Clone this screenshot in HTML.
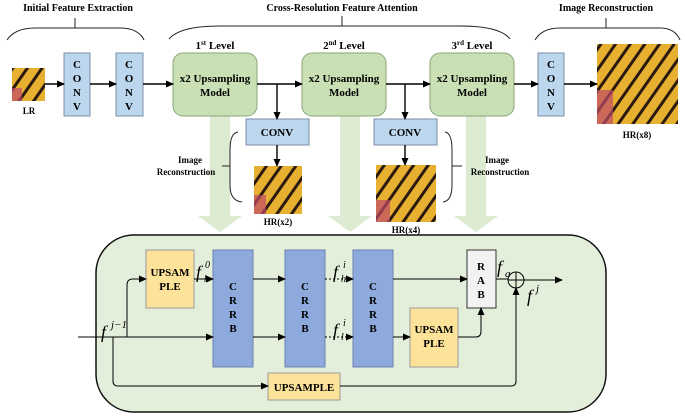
<!DOCTYPE html>
<html><head><style>body{margin:0;background:#fff}svg{display:block}</style></head><body>
<svg width="685" height="417" viewBox="0 0 685 417" xmlns="http://www.w3.org/2000/svg" font-family="Liberation Serif, serif" font-weight="bold">
<defs>
<marker id="a" markerWidth="8" markerHeight="8" refX="7" refY="4" orient="auto" markerUnits="userSpaceOnUse"><path d="M0,0.5 L8,4 L0,7.5z" fill="#000"/></marker>
<pattern id="bf" width="12" height="12" patternUnits="userSpaceOnUse" patternTransform="rotate(35)"><rect width="12" height="12" fill="#e8b030"/><rect width="3" height="12" fill="#2a1a10"/></pattern>
</defs>
<g fill="#dcebd2">
<path d="M210,116h20v100h12l-22,16l-22,-16h12z"/>
<path d="M340,116h20v100h12l-22,16l-22,-16h12z"/>
<path d="M466,116h20v100h12l-22,16l-22,-16h12z"/>
</g>
<g font-size="10" text-anchor="middle">
<text x="78" y="11">Initial Feature Extraction</text>
<text x="342" y="11">Cross-Resolution Feature Attention</text>
<text x="606" y="11">Image Reconstruction</text>
</g>
<g fill="none" stroke="#222" stroke-width="1">
<path d="M7,40 Q15,28 35,28 H120 Q138,28 144,40 M75,28 V18"/>
<path d="M169,39 Q180,26 220,26 H460 Q500,26 510,39 M342,26 V16"/>
<path d="M535,40 Q542,28 560,28 H660 Q675,28 680,40 M606,28 V18"/>
<path d="M238,132 Q230,133 230,150 V185 Q230,201 242,202 M230,166 H222"/>
<path d="M445,132 Q452,133 452,150 V185 Q452,201 443,202 M452,166 H462"/>
</g>
<g>
<rect x="12" y="68" width="33" height="33" fill="url(#bf)"/><rect x="12" y="88" width="10" height="13" fill="#c04a6a" opacity=".7"/>
<rect x="254" y="166" width="48" height="48" fill="url(#bf)"/><rect x="254" y="195" width="12" height="19" fill="#c04a6a" opacity=".7"/>
<rect x="376" y="165" width="60" height="57" fill="url(#bf)"/><rect x="376" y="200" width="14" height="22" fill="#c04a6a" opacity=".7"/>
<rect x="597" y="44" width="81" height="80" fill="url(#bf)"/><rect x="597" y="90" width="16" height="34" fill="#c04a6a" opacity=".7"/>
</g>
<g font-size="9" text-anchor="middle">
<text x="29" y="114">LR</text>
<text x="278" y="225">HR(x2)</text>
<text x="406" y="233">HR(x4)</text>
<text x="637" y="138">HR(x8)</text>
<text x="190" y="163">Image</text><text x="186" y="175">Reconstruction</text>
<text x="497" y="163">Image</text><text x="500" y="175">Reconstruction</text>
</g>
<g fill="#bcd6ee" stroke="#7a8ea8" stroke-width="1">
<rect x="64" y="53" width="26" height="63"/><rect x="116" y="53" width="27" height="63"/><rect x="538" y="53" width="26" height="63"/>
<rect x="246" y="119" width="63" height="26"/><rect x="374" y="119" width="63" height="26"/>
</g>
<g font-size="11" text-anchor="middle">
<text x="77" y="68">C</text><text x="77" y="82">O</text><text x="77" y="96">N</text><text x="77" y="110">V</text>
<text x="129" y="68">C</text><text x="129" y="82">O</text><text x="129" y="96">N</text><text x="129" y="110">V</text>
<text x="551" y="68">C</text><text x="551" y="82">O</text><text x="551" y="96">N</text><text x="551" y="110">V</text>
<text x="277" y="136">CONV</text><text x="405" y="136">CONV</text>
</g>
<g fill="#c8e0b4" stroke="#8aa67a">
<rect x="173" y="53" width="84" height="63" rx="10"/><rect x="302" y="53" width="84" height="63" rx="10"/><rect x="430" y="53" width="84" height="63" rx="10"/>
</g>
<g font-size="11" text-anchor="middle">
<text x="215" y="82">x2 Upsampling</text><text x="215" y="96">Model</text>
<text x="344" y="82">x2 Upsampling</text><text x="344" y="96">Model</text>
<text x="472" y="82">x2 Upsampling</text><text x="472" y="96">Model</text>
<text x="215" y="49">1<tspan font-size="7" dy="-4">st</tspan><tspan dy="4"> Level</tspan></text>
<text x="344" y="49">2<tspan font-size="7" dy="-4">nd</tspan><tspan dy="4"> Level</tspan></text>
<text x="472" y="49">3<tspan font-size="7" dy="-4">rd</tspan><tspan dy="4"> Level</tspan></text>
</g>
<g stroke="#000" stroke-width="1.4" fill="none" marker-end="url(#a)">
<path d="M45,84H64"/><path d="M90,84H116"/><path d="M143,84H173"/><path d="M257,84H302"/><path d="M386,84H430"/><path d="M514,84H538"/><path d="M564,84H597"/>
<path d="M277,84V119"/><path d="M405,84V119"/><path d="M277,145V166"/><path d="M405,145V165"/>
</g>
<rect x="96" y="235" width="510" height="177" rx="38" fill="#e4efdb" stroke="#111" stroke-width="1.5"/>
<g fill="#fde39a" stroke="#999">
<rect x="146" y="250" width="48" height="58"/><rect x="410" y="308" width="48" height="59"/><rect x="268" y="373" width="72" height="27"/>
</g>
<g fill="#8eaadc" stroke="#6a80b0">
<rect x="213" y="250" width="40" height="117"/><rect x="285" y="250" width="40" height="117"/><rect x="353" y="250" width="40" height="117"/>
</g>
<rect x="467" y="250" width="29" height="58" fill="#f2f2f2" stroke="#333"/>
<g font-size="11" text-anchor="middle">
<text x="170" y="276">UPSAM</text><text x="170" y="290">PLE</text>
<text x="434" y="333">UPSAM</text><text x="434" y="347">PLE</text>
<text x="304" y="391">UPSAMPLE</text>
<text x="233" y="290">C</text><text x="233" y="304">R</text><text x="233" y="318">R</text><text x="233" y="332">B</text>
<text x="305" y="290">C</text><text x="305" y="304">R</text><text x="305" y="318">R</text><text x="305" y="332">B</text>
<text x="373" y="290">C</text><text x="373" y="304">R</text><text x="373" y="318">R</text><text x="373" y="332">B</text>
<text x="481" y="270">R</text><text x="481" y="284">A</text><text x="481" y="298">B</text>
</g>
<g stroke="#000" stroke-width="1" fill="none">
<path d="M78,337H213" marker-end="url(#a)"/>
<path d="M127,337V285Q127,279 133,279H146" marker-end="url(#a)"/>
<path d="M194,279H213" marker-end="url(#a)"/>
<path d="M253,279H285" marker-end="url(#a)"/><path d="M253,337H285" marker-end="url(#a)"/>
<path d="M325,279H353" stroke-dasharray="2,2" marker-end="url(#a)"/><path d="M325,337H353" stroke-dasharray="2,2" marker-end="url(#a)"/>
<path d="M393,279H467" marker-end="url(#a)"/><path d="M393,337H410" marker-end="url(#a)"/>
<path d="M458,337H476Q481,337 481,331V308" marker-end="url(#a)"/>
<path d="M113,337V381Q113,386 118,386H268" marker-end="url(#a)"/>
<path d="M340,386H511Q516,386 516,381V288" marker-end="url(#a)"/>
<path d="M496,279H508"/><path d="M524,280H562" marker-end="url(#a)"/>
<circle cx="516" cy="280" r="8" fill="none"/><path d="M508,280H524M516,272V288"/>
</g>
<g font-family="Liberation Serif, serif" font-style="italic" font-weight="normal" fill="#000">
<text x="101" y="338" font-size="18">f</text><text x="111" y="328" font-size="11">j−1</text>
<text x="196" y="278" font-size="18">f</text><text x="204" y="282" font-size="10">h</text><text x="205" y="268" font-size="10">0</text>
<text x="333" y="278" font-size="18">f</text><text x="341" y="282" font-size="10">h</text><text x="343" y="268" font-size="10">i</text>
<text x="333" y="336" font-size="18">f</text><text x="341" y="340" font-size="10">l</text><text x="343" y="326" font-size="10">i</text>
<text x="497" y="273" font-size="18">f</text><text x="505" y="277" font-size="11">a</text>
<text x="527" y="302" font-size="18">f</text><text x="536" y="292" font-size="11">j</text>
</g>
</svg>
</body></html>
